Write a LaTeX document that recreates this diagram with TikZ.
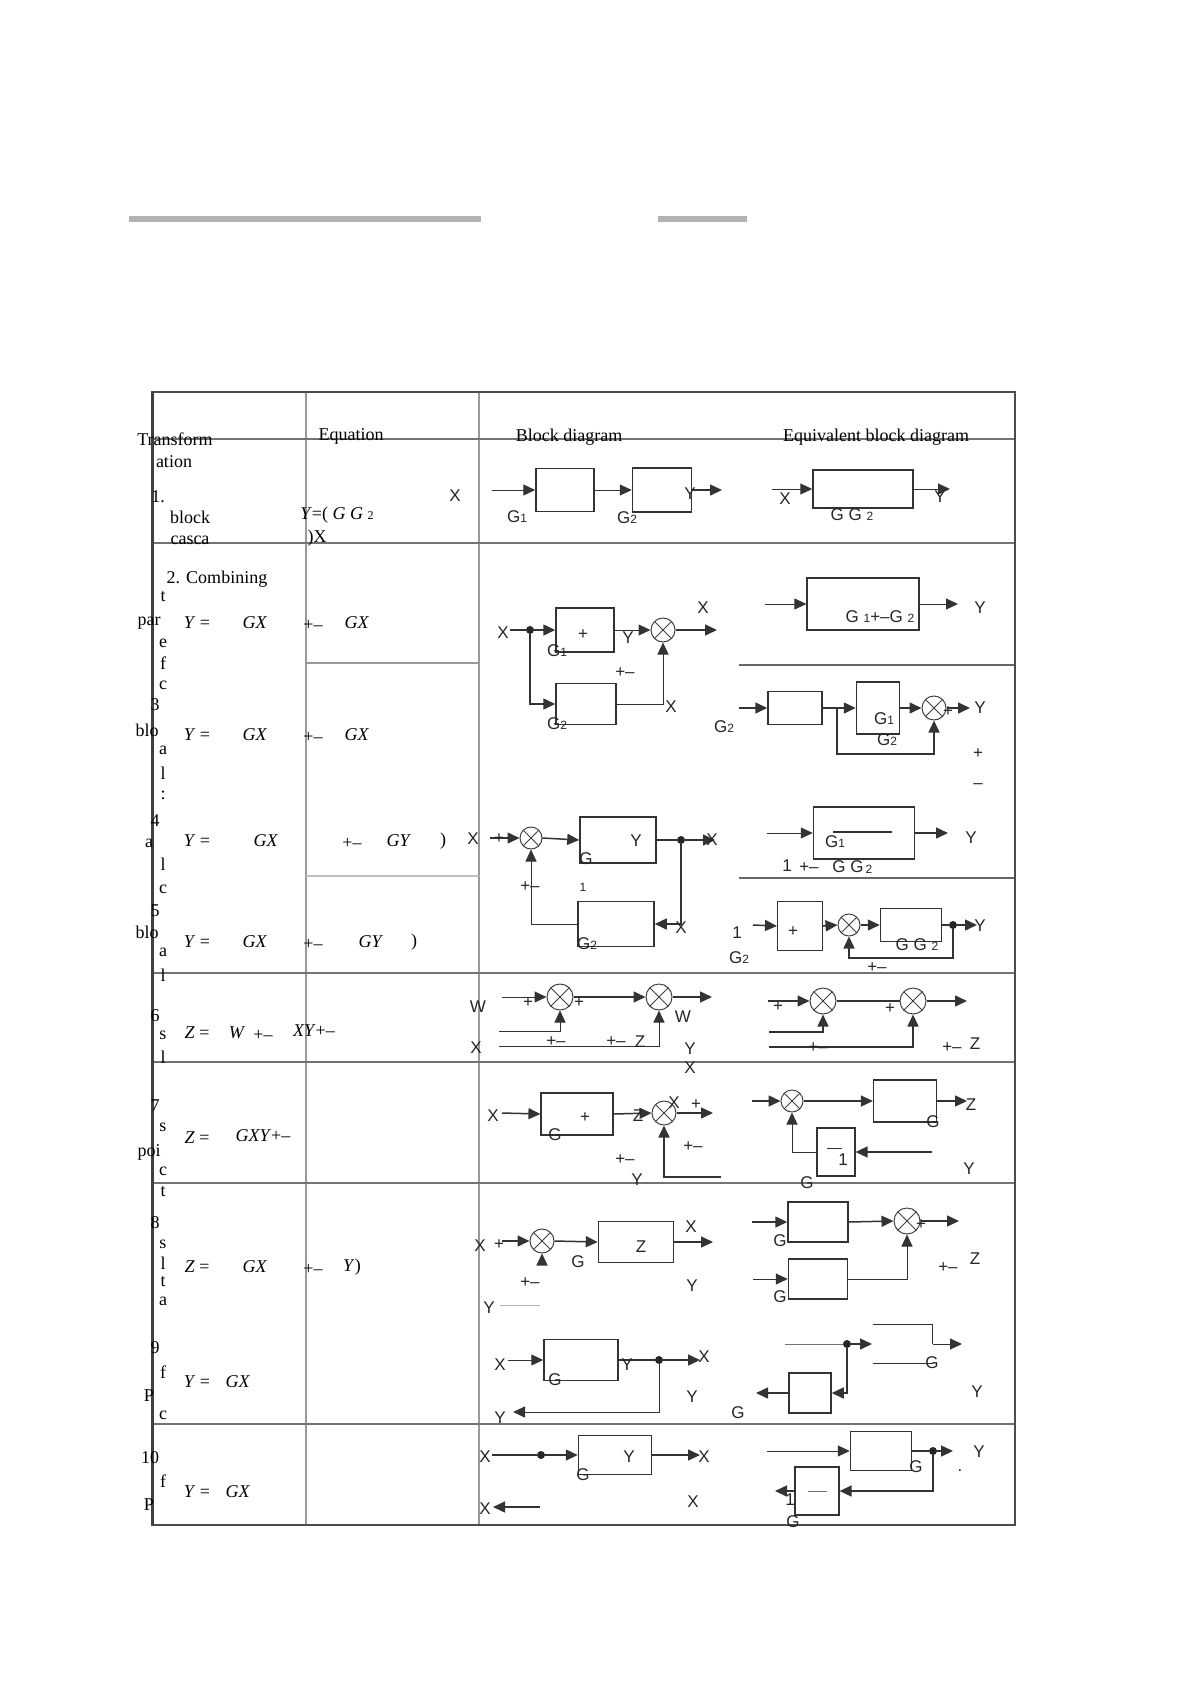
\documentclass[tikz,border=0pt]{standalone}
\usepackage{fontspec}
\setmainfont{Liberation Serif}
\newfontfamily\arialf{Liberation Sans}
\usetikzlibrary{arrows.meta}
\newcommand\sub[1]{{\fontsize{12}{12}\selectfont #1}}
\tikzstyle{blk} = [rectangle, draw=black!80, line width=1.5pt, inner sep=0pt]
\tikzstyle{sumj} = [circle, draw=black!75, line width=1pt, minimum size=24pt, inner sep=0pt, path picture={\draw[black!75, line width=0.9pt] (path picture bounding box.north west) -- (path picture bounding box.south east) (path picture bounding box.north east) -- (path picture bounding box.south west);}]
\tikzstyle{dot} = [circle, fill=black!85, minimum size=8pt, inner sep=0pt]
\tikzstyle{lbl} = [font=\arialf\fontsize{17}{19}\selectfont, text=black!85, inner sep=0pt]
\tikzstyle{eq} = [font=\fontsize{18}{20}\selectfont, inner sep=0pt]
\tikzstyle{arrow} = [line width=1.5pt, draw=black!80, -{Triangle[length=12pt,width=11pt]}]
\tikzstyle{line} = [line width=1.5pt, draw=black!80]
\tikzstyle{lite} = [line width=1pt, draw=black!55]
\tikzstyle{grid} = [line width=1.4pt, draw=black!40]
\begin{document}
\begin{tikzpicture}[x=1pt, y=-1pt]
	\useasboundingbox (0,0) rectangle (1200,1700);
	% top bars
	\fill [black!30] (129,216) rectangle (481,222);
	\fill [black!30] (658,216) rectangle (747,222);
	% table
	\draw [grid] (306,392) -- (306,1525);
	\draw [grid] (479,392) -- (479,1525);
	\foreach \y in {439,543,973,1062,1183,1424} \draw [grid, draw=black!55] (152,\y) -- (1015,\y);
	\draw [grid] (306,663) -- (479,663);
	\draw [grid, draw=black!25] (306,876) -- (479,876);
	\draw [grid, draw=black!60] (739,665) -- (1015,665);
	\draw [grid, draw=black!60] (739,878) -- (1015,878);
	\draw [line width=2pt, black!70] (152,392) rectangle (1015,1525);
	\draw [line width=3pt, black!75] (152,392) -- (152,1525);
	% header
	\node (h1) [eq] at (175,439) {Transform};
	\node (h1b) [eq] at (174,462) {ation};
	\node (h2) [eq] at (351,436) {Equation};
	\node (h3) [eq] at (569,437) {Block diagram};
	\node (h4) [eq] at (876,437) {Equivalent block diagram};
	% first column
	\foreach \x/\y/\s [count=\i] in {158/497/1.,190/517/block,190/540/casca,217/579/2. Combining,163/597/t,149/623/par,163/643/e,163/663/f,163/685/c,155/705/3,147/730/blo,163/750/a,163/773/l,163/795/:,155/821/4,149/843/a,163/864/l,163/889/c,155/911/5,147/932/blo,163/952/a,163/975/l,155/1016/6,163/1035/s,163/1057/l,155/1106/7,163/1127/s,149/1152/poi,163/1171/c,163/1192/t,155/1223/8,163/1244/s,163/1263/l,163/1282/t,163/1301/a,155/1348/9,163/1372/f,149/1396/P,163/1415/c,150/1458/10,163/1481/f,149/1505/P}
		\node (f\i) [eq] at (\x,\y) {\s};
	% equations
	\foreach \x/\y/\s [count=\i] in {337/515/{\textit{Y}=( \textit{G G} \sub{2}},317/538/{)X},
		197/623/{\textit{Y} =},255/623/\textit{GX},313/625/+–,357/623/\textit{GX},
		197/735/{\textit{Y} =},255/735/\textit{GX},313/737/+–,357/735/\textit{GX},
		197/841/{\textit{Y} =},266/841/\textit{GX},352/843/+–,399/841/\textit{GY},443/841/),
		197/942/{\textit{Y} =},255/942/\textit{GX},313/944/+–,371/942/\textit{GY},414/942/),
		197/1033/{\textit{Z} =},237/1033/\textit{W},263/1035/+–,314/1031/\textit{XY}+–,
		197/1138/{\textit{Z} =},263/1136/\textit{GXY}+–,
		197/1267/{\textit{Z} =},255/1267/\textit{GX},313/1269/+–,352/1267/\textit{Y}),
		197/1382/{\textit{Y} =},238/1382/\textit{GX},
		197/1492/{\textit{Y} =},238/1492/\textit{GX}}
		\node (e\i) [eq] at (\x,\y) {\s};

	% row 1
	\node (b1a) [blk, minimum width=58pt, minimum height=43pt] at (565,490) {};
	\node (b1b) [blk, minimum width=59pt, minimum height=44pt] at (662,490) {};
	\coordinate (i1) at (492,490);
	\coordinate (o1) at (722,490);
	\draw [arrow, line width=1pt] (i1) -- (b1a.west);
	\draw [arrow, line width=1pt] (b1a.east) -- (b1b.west);
	\draw [arrow] (b1b.east) -- (o1);
	\node (q1) [blk, minimum width=100pt, minimum height=38pt] at (863,489) {};
	\coordinate (qi1) at (772,489);
	\coordinate (qo1) at (950,489);
	\draw [arrow, line width=1pt] (qi1) -- (q1.west);
	\draw [arrow, line width=1pt] (q1.east) -- (qo1);

	% row 2
	\node (g2a) [blk, minimum width=58pt, minimum height=44pt] at (585,630) {};
	\node (g2b) [blk, minimum width=60pt, minimum height=41pt] at (586,704) {};
	\node (s2) [sumj] at (663,630) {};
	\node (d2) [dot] at (530,630) {};
	\coordinate (i2) at (510,630);
	\coordinate (o2) at (717,630);
	\draw [line] (i2) -- (d2);
	\draw [arrow] (d2) -- (g2a.west);
	\draw [arrow] (d2) |- (g2b.west);
	\draw [arrow, line width=1pt] (g2a.east) -- (s2.west);
	\draw [arrow] (s2.east) -- (o2);
	\draw [arrow, line width=1pt] (g2b.east) -| (s2.south);
	\node (q2) [blk, line width=1.2pt, minimum width=112pt, minimum height=52pt] at (863,604) {};
	\coordinate (qi2) at (765,604);
	\coordinate (qo2) at (958,604);
	\draw [arrow, line width=1pt] (qi2) -- (q2.west);
	\draw [arrow, line width=1pt] (q2.east) -- (qo2);

	% row 3
	\node (q3a) [blk, minimum width=54pt, minimum height=33pt] at (795,708) {};
	\node (q3b) [blk, minimum width=43pt, minimum height=52pt] at (878,708) {};
	\node (s3) [sumj] at (934,708) {};
	\coordinate (qi3) at (739,708);
	\coordinate (qo3) at (970,708);
	\coordinate (br3) at (837,708);
	\coordinate (fb3) at (837,754);
	\draw [arrow] (qi3) -- (q3a.west);
	\draw [line] (q3a.east) -- (br3);
	\draw [arrow] (br3) -- (q3b.west);
	\draw [arrow] (q3b.east) -- (s3.west);
	\draw [arrow] (s3.east) -- (qo3);
	\draw [arrow] (br3) -- (fb3) -| (s3.south);

	% row 4
	\node (s4) [sumj, minimum size=22pt] at (531,838) {};
	\node (g4a) [blk, minimum width=76pt, minimum height=46pt] at (618,840) {};
	\node (g4b) [blk, minimum width=76pt, minimum height=45pt] at (616,924) {};
	\node (d4) [dot] at (681,840) {};
	\coordinate (i4) at (490,838);
	\coordinate (o4) at (715,840);
	\draw [arrow] (i4) -- (s4.west);
	\draw [arrow] (s4.east) -- (g4a.west);
	\draw [line] (g4a.east) -- (d4);
	\draw [arrow] (d4) -- (o4);
	\draw [arrow] (d4) |- (g4b.east);
	\draw [arrow, line width=1pt] (g4b.west) -| (s4.south);
	\node (q4) [blk, minimum width=101pt, minimum height=52pt] at (864,833) {};
	\coordinate (qi4) at (767,833);
	\coordinate (qo4) at (948,833);
	\draw [arrow, line width=1pt] (qi4) -- (q4.west);
	\draw [arrow] (q4.east) -- (qo4);
	\draw [line] (833,832) -- (892,832);

	% row 5
	\node (q5a) [blk, line width=1pt, minimum width=45pt, minimum height=49pt] at (800,926) {};
	\node (s5) [sumj, minimum size=22pt] at (849,925) {};
	\node (q5b) [blk, minimum width=61pt, minimum height=33pt] at (911,925) {};
	\node (d5) [dot] at (953,925) {};
	\coordinate (qi5) at (753,925);
	\coordinate (qo5) at (977,925);
	\coordinate (fb5) at (953,958);
	\draw [arrow] (qi5) -- (q5a.west);
	\draw [arrow] (q5a.east) -- (s5.west);
	\draw [arrow] (s5.east) -- (q5b.west);
	\draw [line] (q5b.east) -- (d5);
	\draw [arrow] (d5) -- (qo5);
	\draw [arrow] (d5) -- (fb5) -| (s5.south);

	% row 6
	\node (s6a) [sumj, minimum size=26pt] at (560,997) {};
	\node (s6b) [sumj, minimum size=26pt] at (659,997) {};
	\coordinate (i6a) at (502,997);
	\coordinate (i6b) at (499,1031);
	\coordinate (i6c) at (499,1046);
	\coordinate (o6) at (712,997);
	\draw [arrow, line width=1pt] (i6a) -- (s6a.west);
	\draw [arrow] (s6a.east) -- (s6b.west);
	\draw [arrow] (s6b.east) -- (o6);
	\draw [arrow, line width=1pt] (i6b) -| (s6a.south);
	\draw [arrow, line width=1pt] (i6c) -| (s6b.south);
	\node (s6c) [sumj, minimum size=26pt] at (823,1001) {};
	\node (s6d) [sumj, minimum size=26pt] at (913,1001) {};
	\coordinate (qi6a) at (768,1001);
	\coordinate (qi6b) at (769,1032);
	\coordinate (qi6c) at (769,1047);
	\coordinate (qo6) at (967,1001);
	\draw [arrow] (qi6a) -- (s6c.west);
	\draw [line] (s6c.east) -- (s6d.west);
	\draw [arrow] (s6d.east) -- (qo6);
	\draw [arrow] (qi6b) -| (s6c.south);
	\draw [arrow] (qi6c) -| (s6d.south);

	% row 7
	\node (g7) [blk, line width=1.2pt, minimum width=72pt, minimum height=42pt] at (577,1114) {};
	\node (s7) [sumj] at (664,1113) {};
	\coordinate (i7) at (502,1113);
	\coordinate (o7) at (713,1113);
	\coordinate (y7) at (721,1177);
	\draw [arrow] (i7) -- (g7.west);
	\draw [arrow] (g7.east) -- (s7.west);
	\draw [arrow] (s7.east) -- (o7);
	\draw [arrow] (y7) -| (s7.south);
	\node (s7b) [sumj, minimum size=22pt] at (792,1101) {};
	\node (q7) [blk, line width=1.2pt, minimum width=63pt, minimum height=42pt] at (905,1101) {};
	\node (q7i) [blk, line width=1.2pt, minimum width=38pt, minimum height=48pt] at (836,1152) {};
	\coordinate (qi7) at (752,1101);
	\coordinate (qo7) at (967,1101);
	\coordinate (qy7) at (932,1152);
	\draw [arrow] (qi7) -- (s7b.west);
	\draw [arrow] (s7b.east) -- (q7.west);
	\draw [arrow] (q7.east) -- (qo7);
	\draw [arrow] (qy7) -- (q7i.east);
	\draw [arrow, line width=1pt] (q7i.west) -| (s7b.south);
	\draw [line, line width=1pt] (827,1148) -- (842,1148);

	% row 8
	\node (s8) [sumj] at (542,1241) {};
	\node (g8) [blk, minimum width=75pt, minimum height=41pt] at (636,1242) {};
	\coordinate (i8) at (502,1241);
	\coordinate (u8) at (542,1264);
	\coordinate (o8) at (713,1242);
	\draw [arrow] (i8) -- (s8.west);
	\draw [arrow] (u8) -- (s8.south);
	\draw [arrow] (s8.east) -- (g8.west);
	\draw [arrow] (g8.east) -- (o8);
	\draw [lite, draw=black!30] (500,1305) -- (540,1305);
	\node (q8a) [blk, minimum width=60pt, minimum height=40pt] at (818,1222) {};
	\node (q8b) [blk, minimum width=59pt, minimum height=40pt] at (818,1279) {};
	\node (s8b) [sumj, minimum size=26pt] at (907,1221) {};
	\coordinate (qi8a) at (752,1222);
	\coordinate (qi8b) at (753,1279);
	\coordinate (qo8) at (959,1221);
	\draw [arrow] (qi8a) -- (q8a.west);
	\draw [arrow, line width=1pt] (qi8b) -- (q8b.west);
	\draw [arrow] (q8a.east) -- (s8b.west);
	\draw [arrow] (s8b.east) -- (qo8);
	\draw [arrow, line width=1pt] (q8b.east) -| (s8b.south);

	% row 9
	\node (g9) [blk, minimum width=74pt, minimum height=41pt] at (581,1360) {};
	\node (d9) [dot] at (659,1360) {};
	\coordinate (i9) at (508,1360);
	\coordinate (o9) at (700,1360);
	\coordinate (y9) at (513,1412);
	\draw [arrow, line width=1pt] (i9) -- (g9.west);
	\draw [line] (g9.east) -- (d9);
	\draw [arrow] (d9) -- (o9);
	\draw [arrow, line width=1pt] (d9) |- (y9);
	\node (q9) [minimum width=59pt, minimum height=39pt, inner sep=0pt] at (903,1344) {};
	\draw [line, line width=1.2pt] (q9.north west) -- (q9.north east) -- (q9.east);
	\draw [line, line width=1.2pt] (q9.south west) -- (q9.south east);
	\node (q9i) [blk, minimum width=42pt, minimum height=40pt] at (810,1393) {};
	\node (d9b) [dot] at (847,1344) {};
	\coordinate (qi9) at (785,1344);
	\coordinate (qa9) at (872,1344);
	\coordinate (qo9) at (962,1344);
	\coordinate (qf9) at (756,1393);
	\draw [lite] (qi9) -- (d9b);
	\draw [arrow] (d9b) -- (qa9);
	\draw [arrow, line width=1pt] (q9.east) -- (qo9);
	\draw [arrow] (d9b) |- (q9i.east);
	\draw [arrow] (q9i.west) -- (qf9);

	% row 10
	\node (g10) [blk, minimum width=73pt, minimum height=39pt] at (615,1455) {};
	\node (d10) [dot] at (541,1455) {};
	\coordinate (i10) at (492,1455);
	\coordinate (o10) at (700,1455);
	\coordinate (x10a) at (540,1507);
	\coordinate (x10b) at (493,1507);
	\draw [line] (i10) -- (d10);
	\draw [arrow] (d10) -- (g10.west);
	\draw [arrow] (g10.east) -- (o10);
	\draw [arrow] (x10a) -- (x10b);
	\node (q10) [blk, minimum width=61pt, minimum height=39pt] at (881,1451) {};
	\node (q10i) [blk, line width=1.2pt, minimum width=44pt, minimum height=48pt] at (817,1491) {};
	\node (d10b) [dot] at (933,1451) {};
	\coordinate (qi10) at (767,1451);
	\coordinate (qo10) at (953,1451);
	\coordinate (qf10) at (775,1491);
	\draw [arrow, line width=1pt] (qi10) -- (q10.west);
	\draw [line] (q10.east) -- (d10b);
	\draw [arrow] (d10b) -- (qo10);
	\draw [arrow] (d10b) |- (q10i.east);
	\draw [arrow] (q10i.west) -- (qf10);
	\draw [lite] (808,1491) -- (827,1491);

	% diagram labels
	\foreach \x/\y/\s [count=\i] in {455/496/X,690/494/Y,517/517/G\sub{1},627/518/G\sub{2},785/499/X,940/497/Y,852/515/{G G \sub{2}},
		503/633/X,583/635/+,557/651/G\sub{1},628/638/Y,703/608/X,557/724/G\sub{2},671/707/X,625/673/+–,
		980/608/Y,880/617/{G \sub{1}+–G \sub{2}},
		724/727/G\sub{2},884/719/G\sub{1},887/740/G\sub{2},948/712/+,980/708/Y,978/754/+,978/786/–,
		473/839/X,499/839/+,636/841/Y,586/859/G,712/840/X,587/944/G\sub{2},530/887/+–,583/887/\sub{1},681/928/X,
		835/842/G\sub{1},971/838/Y,787/866/1,809/868/+–,848/867/G G,869/869/\sub{2},
		737/933/1,739/958/G\sub{2},793/932/+,917/945/{G G \sub{2}},980/926/Y,877/968/+–,
		478/1007/W,476/1048/X,528/1003/+,579/1003/+,683/1017/W,556/1042/+–,616/1042/+–,640/1042/Z,690/1049/Y,690/1068/X,
		778/1007/+,890/1009/+,818/1048/+–,952/1048/+–,975/1044/Z,
		493/1116/X,585/1118/+,555/1135/G,638/1116/Z,674/1103/X,696/1105/+,693/1147/+–,625/1160/+–,637/1180/Y,
		933/1122/G,971/1105/Z,843/1160/1,807/1183/G,969/1169/Y,
		480/1246/X,499/1245/+,530/1283/+–,489/1308/Y,641/1247/Z,578/1262/G,691/1227/X,692/1286/Y,
		921/1225/+,780/1241/G,780/1297/G,948/1268/+–,975/1259/Z,
		500/1365/X,555/1380/G,704/1357/X,627/1365/Y,500/1418/Y,692/1397/Y,
		932/1363/G,738/1413/G,977/1392/Y,
		485/1457/X,629/1457/Y,583/1475/G,704/1457/X,485/1509/X,693/1502/X,
		916/1467/G,979/1452/Y,960/1471/.,790/1500/1,793/1522/G}
		\node (l\i) [lbl] at (\x,\y) {\s};
\end{tikzpicture}
\end{document}
